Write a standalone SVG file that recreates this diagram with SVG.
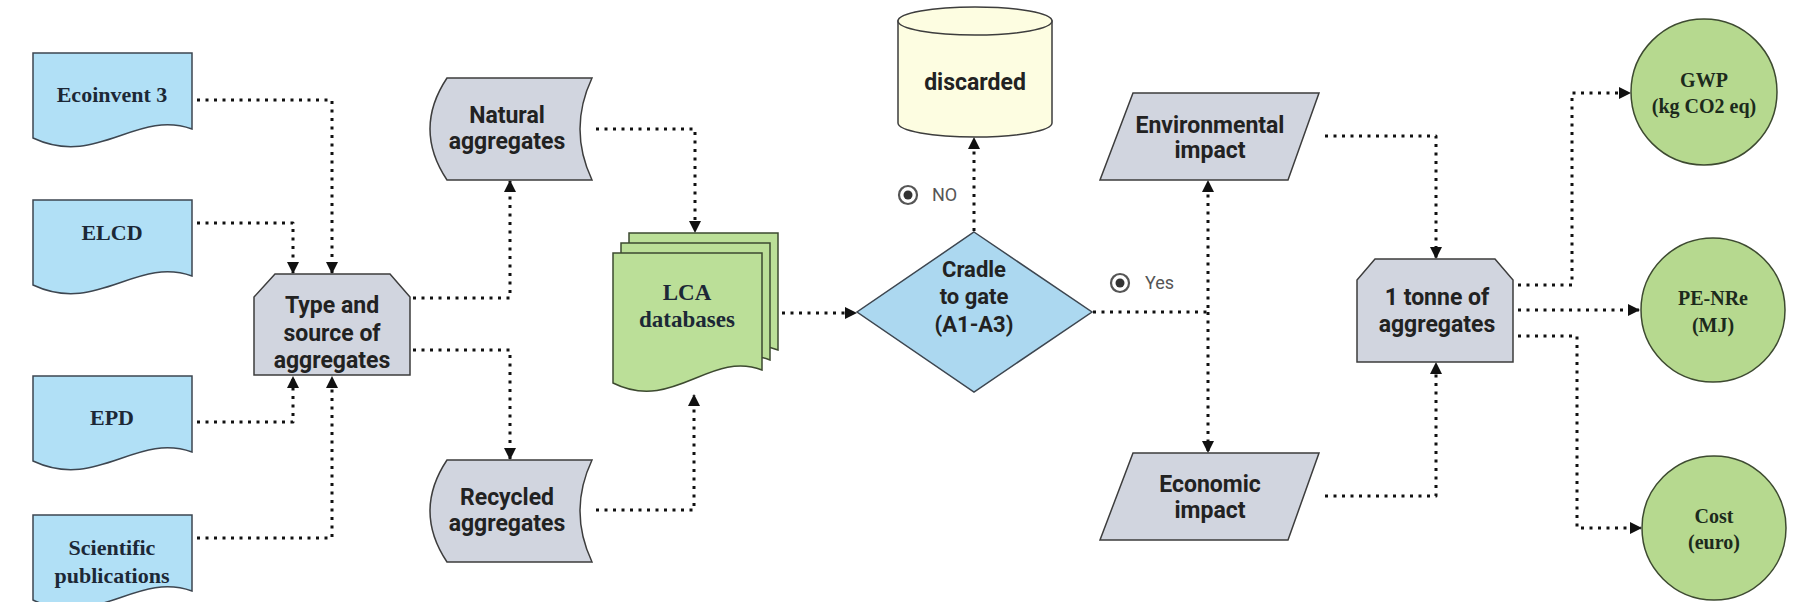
<svg xmlns="http://www.w3.org/2000/svg" width="1817" height="602" viewBox="0 0 1817 602">
<style>
.doc{fill:#b1e0f6;stroke:#3d4650;stroke-width:1.5}
.gray{fill:#d1d5df;stroke:#3d3d3d;stroke-width:1.5}
.lca{fill:#bbdf98;stroke:#3d4a30;stroke-width:1.5}
.circ{fill:#b6d98f;stroke:#3d4a30;stroke-width:1.5}
.cyl{fill:#fdfde1;stroke:#3d3d3d;stroke-width:1.5}
.dia{fill:#acd8f0;stroke:#3d4650;stroke-width:1.5}
.ts{font-family:"Liberation Serif","Times New Roman",serif;font-weight:bold;font-size:22px;fill:#1c2836;text-anchor:middle}
.tc{font-family:"Liberation Serif","Times New Roman",serif;font-weight:bold;font-size:20px;fill:#1c2a1c;text-anchor:middle}
.tr{font-family:Roboto,"Liberation Sans",sans-serif;font-weight:bold;font-size:23px;fill:#222;text-anchor:middle}
.lbl{font-family:Roboto,"Liberation Sans",sans-serif;font-size:18px;fill:#555}
.con{fill:none;stroke:#111;stroke-width:3;stroke-dasharray:3 5.5;stroke-linejoin:round}
</style>
<defs>
<marker id="arr" markerWidth="12" markerHeight="12" refX="11" refY="6" orient="auto" markerUnits="userSpaceOnUse">
<path d="M0,0 L12,6 L0,12 Z" fill="#111"/>
</marker>
</defs>

<g id="connectors">
<path class="con" d="M197,100 H332 V273" marker-end="url(#arr)"/>
<path class="con" d="M197,223 H293 V273" marker-end="url(#arr)"/>
<path class="con" d="M197,422 H293 V377" marker-end="url(#arr)"/>
<path class="con" d="M197,538 H332 V377" marker-end="url(#arr)"/>
<path class="con" d="M413,298 H510 V181" marker-end="url(#arr)"/>
<path class="con" d="M413,350 H510 V459" marker-end="url(#arr)"/>
<path class="con" d="M596,129 H695 V232" marker-end="url(#arr)"/>
<path class="con" d="M596,510 H694 V395" marker-end="url(#arr)"/>
<path class="con" d="M782,313 H856" marker-end="url(#arr)"/>
<path class="con" d="M974,231 V138" marker-end="url(#arr)"/>
<path class="con" d="M1093,312 H1208 V181" marker-end="url(#arr)"/>
<path class="con" d="M1208,312 V452" marker-end="url(#arr)"/>
<path class="con" d="M1325,136 H1436 V258" marker-end="url(#arr)"/>
<path class="con" d="M1325,496 H1436 V363" marker-end="url(#arr)"/>
<path class="con" d="M1518,285 H1572 V93 H1630" marker-end="url(#arr)"/>
<path class="con" d="M1518,310 H1639" marker-end="url(#arr)"/>
<path class="con" d="M1518,336 H1577 V528 H1641" marker-end="url(#arr)"/>
</g>

<g id="ecoinvent">
<path class="doc" d="M33,53 H192 V129 C136,109 97,168 33,138 Z"/>
<text class="ts" x="112" y="102">Ecoinvent 3</text>
</g>
<g id="elcd">
<path class="doc" d="M33,200 H192 V276 C136,256 97,315 33,285 Z"/>
<text class="ts" x="112" y="240">ELCD</text>
</g>
<g id="epd">
<path class="doc" d="M33,376 H192 V452 C136,432 97,491 33,461 Z"/>
<text class="ts" x="112" y="425">EPD</text>
</g>
<g id="scientific">
<path class="doc" d="M33,515 H192 V591 C136,571 97,630 33,600 Z"/>
<text class="ts" x="112" y="555">Scientific</text>
<text class="ts" x="112" y="583">publications</text>
</g>

<g id="type-source">
<path class="gray" d="M275,274 H390 L410,297 V375 H254 V297 Z"/>
<text class="tr" x="332" y="313">Type and</text>
<text class="tr" x="332" y="341">source of</text>
<text class="tr" x="332" y="368">aggregates</text>
</g>

<g id="natural">
<path class="gray" d="M447,78 H592 Q568,129 592,180 H447 Q413,129 447,78 Z"/>
<text class="tr" x="507" y="123">Natural</text>
<text class="tr" x="507" y="149">aggregates</text>
</g>
<g id="recycled">
<path class="gray" d="M447,460 H592 Q568,511 592,562 H447 Q413,511 447,460 Z"/>
<text class="tr" x="507" y="505">Recycled</text>
<text class="tr" x="507" y="531">aggregates</text>
</g>

<g id="lca">
<path class="lca" d="M629,233 H778 V350 C726,330 689,393 629,363 Z"/>
<path class="lca" d="M621,243 H770 V360 C718,340 681,403 621,373 Z"/>
<path class="lca" d="M613,253 H762 V370 C710,350 673,413 613,383 Z"/>
<text class="ts" x="687" y="300" style="font-size:23px">LCA</text>
<text class="ts" x="687" y="327" style="font-size:23px">databases</text>
</g>

<g id="cradle">
<path class="dia" d="M974,232 L1092,312 L974,392 L857,312 Z"/>
<text class="tr" x="974" y="277" style="font-size:22px">Cradle</text>
<text class="tr" x="974" y="304" style="font-size:22px">to gate</text>
<text class="tr" x="974" y="332" style="font-size:22px">(A1-A3)</text>
</g>

<g id="discarded">
<path class="cyl" d="M898,21 V123 A77,14 0 0 0 1052,123 V21 Z"/>
<ellipse class="cyl" cx="975" cy="21" rx="77" ry="14"/>
<text class="tr" x="975" y="90">discarded</text>
</g>

<g id="label-no">
<circle cx="908" cy="195" r="9" fill="none" stroke="#555" stroke-width="2.2"/>
<circle cx="908" cy="195" r="4.5" fill="#333"/>
<text class="lbl" x="932" y="201">NO</text>
</g>
<g id="label-yes">
<circle cx="1120" cy="283" r="9" fill="none" stroke="#555" stroke-width="2.2"/>
<circle cx="1120" cy="283" r="4.5" fill="#333"/>
<text class="lbl" x="1145" y="289">Yes</text>
</g>

<g id="environmental">
<path class="gray" d="M1133,93 H1319 L1288,180 H1100 Z"/>
<text class="tr" x="1210" y="133">Environmental</text>
<text class="tr" x="1210" y="158">impact</text>
</g>
<g id="economic">
<path class="gray" d="M1133,453 H1319 L1288,540 H1100 Z"/>
<text class="tr" x="1210" y="492">Economic</text>
<text class="tr" x="1210" y="518">impact</text>
</g>

<g id="tonne">
<path class="gray" d="M1375,259 H1495 L1513,280 V362 H1357 V280 Z"/>
<text class="tr" x="1437" y="305">1 tonne of</text>
<text class="tr" x="1437" y="332">aggregates</text>
</g>

<g id="gwp">
<circle class="circ" cx="1704" cy="92" r="73"/>
<text class="tc" x="1704" y="87">GWP</text>
<text class="tc" x="1704" y="113">(kg CO2 eq)</text>
</g>
<g id="pe-nre">
<circle class="circ" cx="1713" cy="310" r="72"/>
<text class="tc" x="1713" y="305">PE-NRe</text>
<text class="tc" x="1713" y="332">(MJ)</text>
</g>
<g id="cost">
<circle class="circ" cx="1714" cy="528" r="72"/>
<text class="tc" x="1714" y="523">Cost</text>
<text class="tc" x="1714" y="549">(euro)</text>
</g>
</svg>
